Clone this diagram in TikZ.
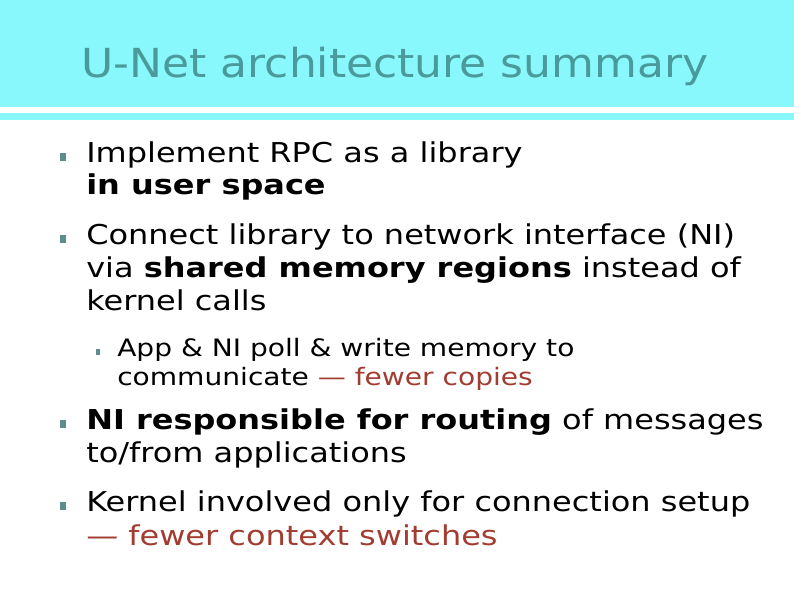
\documentclass[tikz,border=0pt]{standalone}
\usepackage{fontspec}
\setmainfont{DejaVu Sans}[FakeStretch=1.17]
\newfontfamily\titlefont{DejaVu Sans}[FakeStretch=1.1]
\begin{document}
\begin{tikzpicture}[x=0.75pt,y=-0.75pt,
  txt/.style={anchor=base west,inner sep=0pt,font=\fontsize{20.5}{24}\selectfont},
  subtxt/.style={anchor=base west,inner sep=0pt,font=\fontsize{18}{20}\selectfont},
  bul/.style={fill=bulc,inner sep=0pt,minimum width=4.5pt,minimum height=5.5pt},
  sbul/.style={fill=bulc,inner sep=0pt,minimum width=3.5pt,minimum height=4.5pt}]
\definecolor{cyanbg}{HTML}{88F8FC}
\definecolor{titc}{HTML}{4A9A9C}
\definecolor{bulc}{HTML}{5E8E8C}
\definecolor{redc}{HTML}{A23B30}
\useasboundingbox (0,0) rectangle (794,595);
\fill[cyanbg] (0,0) rectangle (794,107);
\fill[cyanbg] (0,113) rectangle (794,120);
\node[anchor=base,inner sep=0pt,text=titc,font=\titlefont\fontsize{30}{36}\selectfont] (title) at (395,78) {U-Net architecture summary};
\node[bul] (b1) at (63,157) {};
\node[txt] (l1) at (86,163) {Implement RPC as a library};
\node[txt] (l2) at (86,195) {\textbf{in user space}};
\node[bul] (b2) at (63,239) {};
\node[txt] (l3) at (86,245) {Connect library to network interface (NI)};
\node[txt] (l4) at (86,278) {via \textbf{shared memory regions} instead of};
\node[txt] (l5) at (86,311) {kernel calls};
\node[sbul] (b3) at (98,352) {};
\node[subtxt] (l6) at (117,357) {App \& NI poll \& write memory to};
\node[subtxt] (l7) at (117,386) {communicate \textcolor{redc}{— fewer copies}};
\node[bul] (b4) at (63,424) {};
\node[txt] (l8) at (86,430) {\textbf{NI responsible for routing} of messages};
\node[txt] (l9) at (86,463) {to/from applications};
\node[bul] (b5) at (63,506) {};
\node[txt] (l10) at (86,512) {Kernel involved only for connection setup};
\node[txt,text=redc] (l11) at (86,546) {— fewer context switches};
\end{tikzpicture}
\end{document}
